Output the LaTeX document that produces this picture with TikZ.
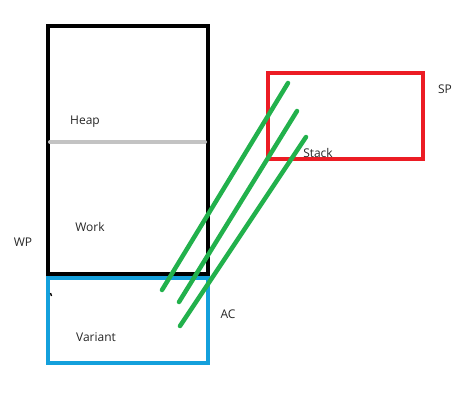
\documentclass[tikz,border=0pt]{standalone}
\usepackage{fontspec}
\setmainfont{Open Sans}
\begin{document}
\begin{tikzpicture}[x=1bp,y=-1bp,
  box/.style={draw, line width=4bp, inner sep=0pt, fill=none},
  lbl/.style={font=\fontsize{12bp}{14bp}\selectfont, text=black!85, inner sep=0pt},
  link/.style={draw=pgreen, line width=4.5bp, line cap=round}]
\definecolor{pgreen}{HTML}{22B14C}
\definecolor{pblue}{HTML}{14A0DC}
\definecolor{pred}{HTML}{EC1C24}
\definecolor{pgray}{HTML}{C3C3C3}
\useasboundingbox (0,0) rectangle (474,406);
% boxes
\node[box, draw=black, minimum width=160bp, minimum height=248bp] (wp) at (127.5,150) {};
\node[box, draw=pblue, minimum width=160bp, minimum height=85bp] (ac) at (127.5,320) {};
\node[box, draw=pred, minimum width=155bp, minimum height=86bp] (sp) at (345.5,116) {};
% divider
\coordinate (dl) at (50,142);
\coordinate (dr) at (205,142);
\draw[draw=pgray, line width=4bp, line cap=round] (dl) -- (dr);
% small mark
\coordinate (m1) at (50.5,293);
\coordinate (m2) at (51.5,296);
\draw[line width=1.3bp] (m1) -- (m2);
% labels
\node[lbl] (heap) at (85,122) {Heap};
\node[lbl] (work) at (90,227) {Work};
\node[lbl] (wpl) at (23,242) {WP};
\node[lbl] (var) at (96,337) {Variant};
\node[lbl] (acl) at (228,314) {AC};
\node[lbl] (stack) at (318,153) {Stack};
\node[lbl] (spl) at (445,89) {SP};
% green lines
\coordinate (g1a) at (288,83);  \coordinate (g1b) at (162,290);
\coordinate (g2a) at (297,111); \coordinate (g2b) at (179,302);
\coordinate (g3a) at (306,137); \coordinate (g3b) at (180,326);
\draw[link] (g1a) -- (g1b);
\draw[link] (g2a) -- (g2b);
\draw[link] (g3a) -- (g3b);
\end{tikzpicture}
\end{document}
